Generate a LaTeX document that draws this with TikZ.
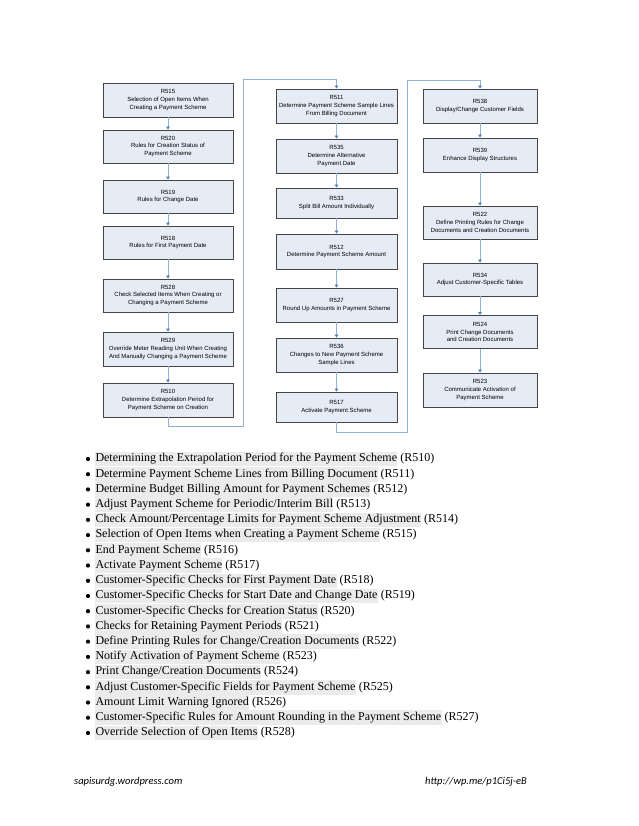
\documentclass[tikz,border=0pt]{standalone}
\usepackage{fontspec}
\setmainfont{Liberation Serif}
\newfontfamily\boxfont{Liberation Sans}
\newfontfamily\footfont{Carlito}
\usetikzlibrary{arrows.meta}
\definecolor{boxfill}{HTML}{E6ECF5}
\definecolor{boxline}{HTML}{444444}
\definecolor{connc}{HTML}{95B0D5}
\definecolor{tipc}{HTML}{4A7EBB}
\definecolor{hlgray}{HTML}{EBEBEB}
\newcommand{\hlt}[1]{{\setlength{\fboxsep}{0.3pt}\colorbox{hlgray}{\strut #1}}}
\tikzset{
  flowbox/.style={draw=boxline, fill=boxfill, line width=0.9pt, align=center,
    font=\boxfont\fontsize{6}{7.6}\selectfont, inner sep=1pt},
  col1/.style={flowbox, minimum width=130pt},
  col2/.style={flowbox, minimum width=121pt},
  col3/.style={flowbox, minimum width=114pt},
  conn/.style={draw=connc, line width=0.8pt, -{Triangle[length=3pt,width=3.5pt,color=tipc,fill=tipc]}},
  listitem/.style={anchor=west, inner sep=0pt, font=\fontsize{12}{14}\selectfont},
  bulletdot/.style={circle, fill=black, inner sep=0pt, minimum size=4.2pt},
  foot/.style={anchor=west, inner sep=0pt, font=\footfont\itshape\fontsize{10.5}{12}\selectfont}
}
\begin{document}
\begin{tikzpicture}[x=1pt,y=-1pt]
\useasboundingbox[fill=white] (0,0) rectangle (638,826);
% column 1
\node[col1, minimum height=34pt] (r515) at (168,100) {R515\\Selection of Open Items When\\Creating a Payment Scheme};
\node[col1, minimum height=33pt] (r520) at (168,146.5) {R520\\Rules for Creation Status of\\Payment Scheme};
\node[col1, minimum height=33pt] (r519) at (168,196.5) {R519\\Rules for Change Date};
\node[col1, minimum height=33pt] (r518) at (168,242.5) {R518\\Rules for First Payment Date};
\node[col1, minimum height=33pt] (r528) at (168,295.5) {R528\\Check Selected Items When Creating or\\Changing a Payment Scheme};
\node[col1, minimum height=34pt] (r529) at (168,349) {R529\\Override Meter Reading Unit When Creating\\And Manually Changing a Payment Scheme};
\node[col1, minimum height=34pt] (r510) at (168,400) {R510\\Determine Extrapolation Period for\\Payment Scheme on Creation};
% column 2
\node[col2, minimum height=34pt] (r511) at (336.5,106) {R511\\Determine Payment Scheme Sample Lines\\From Billing Document};
\node[col2, minimum height=34pt] (r535) at (336.5,156) {R535\\Determine Alternative\\Payment Date};
\node[col2, minimum height=30pt] (r533) at (336.5,203) {R533\\Split Bill Amount Individually};
\node[col2, minimum height=35pt] (r512) at (336.5,251.5) {R512\\Determine Payment Scheme Amount};
\node[col2, minimum height=34pt] (r527) at (336.5,305) {R527\\Round Up Amounts in Payment Scheme};
\node[col2, minimum height=34pt] (r536) at (336.5,355) {R536\\Changes to New Payment Scheme\\Sample Lines};
\node[col2, minimum height=30pt] (r517) at (336.5,407) {R517\\Activate Payment Scheme};
% column 3
\node[col3, minimum height=34pt] (r538) at (480,106) {R538\\Display/Change Customer Fields};
\node[col3, minimum height=34pt] (r539) at (480,155) {R539\\Enhance Display Structures};
\node[col3, minimum height=33pt] (r522) at (480,222.5) {R522\\Define Printing Rules for Change\\Documents and Creation Documents};
\node[col3, minimum height=33pt] (r534) at (480,279.5) {R534\\Adjust Customer-Specific Tables};
\node[col3, minimum height=33pt] (r524) at (480,332) {R524\\Print Change Documents\\and Creation Documents};
\node[col3, minimum height=34pt] (r523) at (480,390) {R523\\Communicate Activation of\\Payment Scheme};
% connectors in columns
\draw[conn] (r515.south) -- (r520.north);
\draw[conn] (r520.south) -- (r519.north);
\draw[conn] (r519.south) -- (r518.north);
\draw[conn] (r518.south) -- (r528.north);
\draw[conn] (r528.south) -- (r529.north);
\draw[conn] (r529.south) -- (r510.north);
\draw[conn] (r511.south) -- (r535.north);
\draw[conn] (r535.south) -- (r533.north);
\draw[conn] (r533.south) -- (r512.north);
\draw[conn] (r512.south) -- (r527.north);
\draw[conn] (r527.south) -- (r536.north);
\draw[conn] (r536.south) -- (r517.north);
\draw[conn] (r538.south) -- (r539.north);
\draw[conn] (r539.south) -- (r522.north);
\draw[conn] (r522.south) -- (r534.north);
\draw[conn] (r534.south) -- (r524.north);
\draw[conn] (r524.south) -- (r523.north);
% column links
\coordinate (c1a) at (168,426);
\coordinate (c1b) at (243,426);
\coordinate (c1c) at (243,79);
\coordinate (c1d) at (336.5,79);
\draw[conn] (r510.south) -- (c1a) -- (c1b) -- (c1c) -- (c1d) -- (r511.north);
\coordinate (c2a) at (336.5,432);
\coordinate (c2b) at (407,432);
\coordinate (c2c) at (407,80);
\coordinate (c2d) at (480,80);
\draw[conn] (r517.south) -- (c2a) -- (c2b) -- (c2c) -- (c2d) -- (r538.north);
% list
\node[bulletdot] (b1) at (88,459) {};
\node[listitem] (l1) at (95,459) {\hlt{Determining the Extrapolation Period for the Payment Scheme} (R510)};
\node[bulletdot] (b2) at (88,474.2) {};
\node[listitem] (l2) at (95,474.2) {\hlt{Determine Payment Scheme Lines from Billing Document} (R511)};
\node[bulletdot] (b3) at (88,489.4) {};
\node[listitem] (l3) at (95,489.4) {\hlt{Determine Budget Billing Amount for Payment Schemes} (R512)};
\node[bulletdot] (b4) at (88,504.7) {};
\node[listitem] (l4) at (95,504.7) {\hlt{Adjust Payment Scheme for Periodic/Interim Bill} (R513)};
\node[bulletdot] (b5) at (88,519.9) {};
\node[listitem] (l5) at (95,519.9) {\hlt{Check Amount/Percentage Limits for Payment Scheme Adjustment} (R514)};
\node[bulletdot] (b6) at (88,535.1) {};
\node[listitem] (l6) at (95,535.1) {\hlt{Selection of Open Items when Creating a Payment Scheme} (R515)};
\node[bulletdot] (b7) at (88,550.3) {};
\node[listitem] (l7) at (95,550.3) {\hlt{End Payment Scheme} (R516)};
\node[bulletdot] (b8) at (88,565.5) {};
\node[listitem] (l8) at (95,565.5) {\hlt{Activate Payment Scheme} (R517)};
\node[bulletdot] (b9) at (88,580.8) {};
\node[listitem] (l9) at (95,580.8) {\hlt{Customer-Specific Checks for First Payment Date} (R518)};
\node[bulletdot] (b10) at (88,596) {};
\node[listitem] (l10) at (95,596) {\hlt{Customer-Specific Checks for Start Date and Change Date} (R519)};
\node[bulletdot] (b11) at (88,611.2) {};
\node[listitem] (l11) at (95,611.2) {\hlt{Customer-Specific Checks for Creation Status} (R520)};
\node[bulletdot] (b12) at (88,626.4) {};
\node[listitem] (l12) at (95,626.4) {\hlt{Checks for Retaining Payment Periods} (R521)};
\node[bulletdot] (b13) at (88,641.6) {};
\node[listitem] (l13) at (95,641.6) {\hlt{Define Printing Rules for Change/Creation Documents} (R522)};
\node[bulletdot] (b14) at (88,656.9) {};
\node[listitem] (l14) at (95,656.9) {\hlt{Notify Activation of Payment Scheme} (R523)};
\node[bulletdot] (b15) at (88,672.1) {};
\node[listitem] (l15) at (95,672.1) {\hlt{Print Change/Creation Documents} (R524)};
\node[bulletdot] (b16) at (88,687.3) {};
\node[listitem] (l16) at (95,687.3) {\hlt{Adjust Customer-Specific Fields for Payment Scheme} (R525)};
\node[bulletdot] (b17) at (88,702.5) {};
\node[listitem] (l17) at (95,702.5) {\hlt{Amount Limit Warning Ignored} (R526)};
\node[bulletdot] (b18) at (88,717.7) {};
\node[listitem] (l18) at (95,717.7) {\hlt{Customer-Specific Rules for Amount Rounding in the Payment Scheme} (R527)};
\node[bulletdot] (b19) at (88,733) {};
\node[listitem] (l19) at (95,733) {\hlt{Override Selection of Open Items} (R528)};
% footer
\node[foot] (f1) at (74,782) {sapisurdg.wordpress.com};
\node[foot] (f2) at (425,782) {http://wp.me/p1Ci5j-eB};
\end{tikzpicture}
\end{document}
